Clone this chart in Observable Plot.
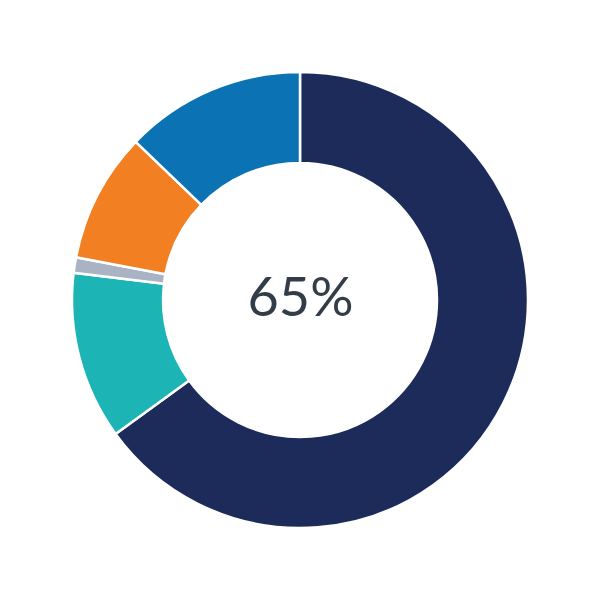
<!DOCTYPE html>
<html>
<head>
<meta charset="utf-8">
<script src="https://cdn.jsdelivr.net/npm/d3@7"></script>
<script src="https://cdn.jsdelivr.net/npm/@observablehq/plot@0.6"></script>
<style>
html,body{margin:0;padding:0;background:#fff;}
</style>
</head>
<body>
<div id="chart"></div>
<script>
const categories = ["A", "B", "C", "D", "E"];
const values = [65, 11.9, 1.1, 9.2, 12.8];
const colors = ["#1c2b5a", "#1db4b6", "#a9b3c3", "#f27f21", "#0b73b4"];
const centerLabel = "65%";

const data = categories.map((c, i) => ({category: c, value: values[i]}));

const W = 600, H = 600;
const outerR = 228, innerR = 137;

function donut(index, scales, channels, dimensions) {
  const cx = (dimensions.marginLeft + dimensions.width - dimensions.marginRight) / 2;
  const cy = (dimensions.marginTop + dimensions.height - dimensions.marginBottom) / 2;
  const pie = d3.pie().sort(null).value(d => d.value)(data);
  const arc = d3.arc().innerRadius(innerR).outerRadius(outerR);
  const g = d3.create("svg:g").attr("transform", `translate(${cx},${cy})`);
  g.selectAll("path").data(pie).join("path")
    .attr("d", arc)
    .attr("fill", d => scales.color(d.data.category))
    .attr("stroke", "#fff")
    .attr("stroke-width", 2.5)
    .attr("stroke-linejoin", "round");
  return g.node();
}

const chart = Plot.plot({
  width: W,
  height: H,
  margin: 0,
  x: {axis: null, domain: [0, 1]},
  y: {axis: null, domain: [0, 1]},
  color: {domain: categories, range: colors},
  style: {background: "#fff", overflow: "visible"},
  marks: [
    donut,
    Plot.text([centerLabel], {
      frameAnchor: "middle",
      text: d => d,
      fontSize: 54,
      fontWeight: 400,
      fontFamily: "Lato",
      fill: "#333d47",
      dy: -2
    })
  ]
});
document.getElementById("chart").appendChild(chart);
</script>
</body>
</html>
